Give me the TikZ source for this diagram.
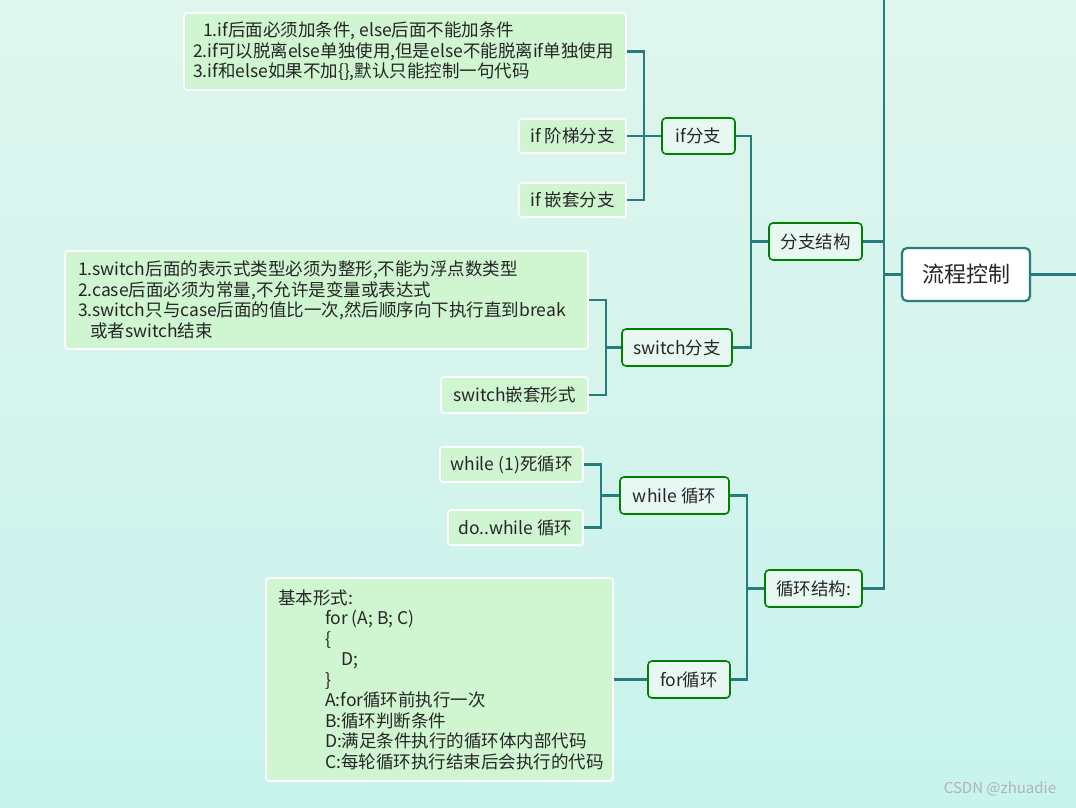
\documentclass[tikz,border=0pt]{standalone}
\usepackage{fontspec}
\setmainfont{Noto Sans CJK SC}
\begin{document}
\begin{tikzpicture}[x=1pt,y=-1pt,
  every node/.style={font=\fontsize{17.5}{20.5}\selectfont, text=black!85, inner sep=0pt},
  leaf/.style={draw=white, line width=1.6pt, fill=leafc, rounded corners=3pt, align=left},
  br/.style={draw=green!50!black, line width=1.6pt, fill=bgn, rounded corners=4pt},
  cn/.style={draw=teal!80!black!85, line width=2.2pt}]
\definecolor{leafc}{RGB}{207,246,208}
\definecolor{bgt}{RGB}{222,246,238}
\definecolor{bgm}{RGB}{212,244,236}
\definecolor{bgb}{RGB}{200,244,238}
\definecolor{bgn}{RGB}{232,249,243}
\useasboundingbox (0,0) rectangle (1076,807);
\shade[top color=bgt, bottom color=bgb, middle color=bgm] (0,0) rectangle (1076,807);
% nodes
\node[leaf, minimum width=442pt, minimum height=77pt] (n1) at (405,51.5) {\parbox{424pt}{\hspace*{10pt}1.if后面必须加条件, else后面不能加条件\\2.if可以脱离else单独使用,但是else不能脱离if单独使用\\3.if和else如果不加\{\},默认只能控制一句代码}};
\node[leaf, minimum width=107pt, minimum height=34pt] (n2) at (572.5,136) {if 阶梯分支};
\node[leaf, minimum width=107pt, minimum height=34pt] (n3) at (572.5,200) {if 嵌套分支};
\node[br, minimum width=73pt, minimum height=36pt] (ifb) at (698.5,136) {if分支};
\node[br, minimum width=93pt, minimum height=37pt] (fz) at (815.5,241.5) {分支结构};
\node[draw=teal!80!black!85, line width=2.2pt, fill=white, rounded corners=5pt, minimum width=128pt, minimum height=53pt, font=\fontsize{22}{26}\selectfont] (root) at (966,274.5) {流程控制};
\node[leaf, minimum width=523pt, minimum height=98pt] (n4) at (326.5,300) {\parbox{497pt}{1.switch后面的表示式类型必须为整形,不能为浮点数类型\\2.case后面必须为常量,不允许是变量或表达式\\3.switch只与case后面的值比一次,然后顺序向下执行直到break\\\hspace*{12pt}或者switch结束}};
\node[leaf, minimum width=147pt, minimum height=36pt] (n5) at (514.5,395) {switch嵌套形式};
\node[br, minimum width=110pt, minimum height=37pt] (sw) at (677,347.5) {switch分支};
\node[leaf, minimum width=143pt, minimum height=35pt] (n6) at (511.5,464.5) {while (1)死循环};
\node[leaf, minimum width=135pt, minimum height=35pt] (n7) at (515.5,527.5) {do..while 循环};
\node[br, minimum width=109pt, minimum height=37pt] (wh) at (674.5,495.5) {while 循环};
\node[br, minimum width=97pt, minimum height=37pt] (xh) at (813.5,588.5) {循环结构:};
\node[leaf, minimum width=347pt, minimum height=203pt] (n8) at (439.5,679.5) {\parbox{323pt}{基本形式:\\\hspace*{47pt}for (A; B; C)\\\hspace*{47pt}\{\\\hspace*{63pt}D;\\\hspace*{47pt}\}\\\hspace*{47pt}A:for循环前执行一次\\\hspace*{47pt}B:循环判断条件\\\hspace*{47pt}D:满足条件执行的循环体内部代码\\\hspace*{47pt}C:每轮循环执行结束后会执行的代码}};
\node[br, minimum width=82pt, minimum height=37pt] (fo) at (689,679.5) {for循环};
\coordinate (top) at (884,0);
\coordinate (rend) at (1076,274.5);
\node[text=gray!60, font=\fontsize{15}{17}\selectfont] (wm) at (1000,789) {CSDN @zhuadie};
% connectors
\draw[cn] (top) |- (root.west);
\draw[cn] (root.east) -- (rend);
\draw[cn] (fz.east) -| (top);
\draw[cn] (xh.east) -| (top);
\draw[cn] (ifb.east) -| (751,241.5) -- (fz.west);
\draw[cn] (sw.east) -| (751,241.5);
\draw[cn] (n1.east) -| (644,136) -- (ifb.west);
\draw[cn] (n2.east) -- (ifb.west);
\draw[cn] (n3.east) -| (644,136);
\draw[cn] (n4.east) -| (606,347.5) -- (sw.west);
\draw[cn] (n5.east) -| (606,347.5);
\draw[cn] (wh.east) -| (747,588.5) -- (xh.west);
\draw[cn] (fo.east) -| (747,588.5);
\draw[cn] (n6.east) -| (601,495.5) -- (wh.west);
\draw[cn] (n7.east) -| (601,495.5);
\draw[cn] (n8.east) -- (fo.west);
\end{tikzpicture}
\end{document}
